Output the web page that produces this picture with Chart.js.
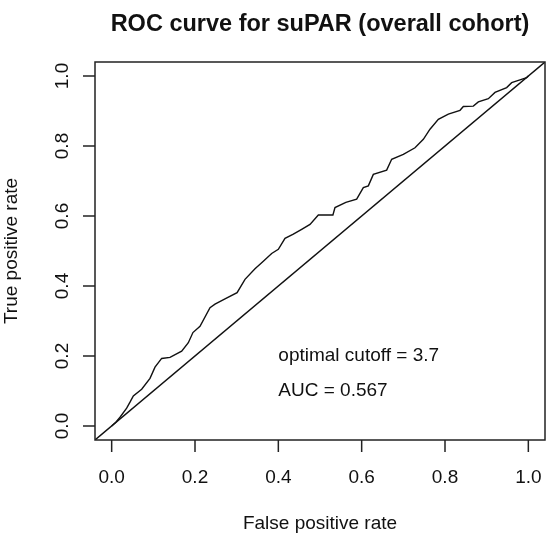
<!DOCTYPE html>
<html>
<head>
<meta charset="utf-8">
<script src="https://cdn.jsdelivr.net/npm/chart.js@4"></script>
<style>
html,body{margin:0;padding:0;background:#fff;}
#wrap{width:550px;height:538px;}
</style>
</head>
<body>
<div id="wrap"><canvas id="c" width="550" height="538"></canvas></div>
<script>
// ROC curve points (false positive rate, true positive rate)
const fpr = [0,0.010,0.020,0.036,0.044,0.052,0.072,0.092,0.104,0.120,0.140,0.168,0.184,0.195,0.212,0.236,0.248,0.272,0.301,0.320,0.344,0.364,0.384,0.400,0.416,0.436,0.456,0.476,0.496,0.531,0.536,0.562,0.588,0.604,0.616,0.628,0.660,0.672,0.700,0.728,0.748,0.764,0.784,0.808,0.836,0.844,0.868,0.880,0.904,0.920,0.948,0.960,0.980,0.996,1];
const tpr = [0,0.011,0.025,0.051,0.068,0.086,0.105,0.136,0.168,0.193,0.196,0.214,0.238,0.267,0.285,0.338,0.348,0.363,0.381,0.419,0.449,0.471,0.493,0.505,0.536,0.548,0.562,0.576,0.603,0.603,0.624,0.639,0.648,0.681,0.686,0.719,0.731,0.762,0.776,0.795,0.819,0.848,0.876,0.891,0.902,0.913,0.914,0.926,0.935,0.953,0.967,0.981,0.989,0.995,1];
// reference diagonal (abline 0,1) across the plot range
const diagX = [-0.04, 1.04];
const diagY = [-0.04, 1.04];
const xTicks = [0, 0.2, 0.4, 0.6, 0.8, 1.0];
const yTicks = [0, 0.2, 0.4, 0.6, 0.8, 1.0];
const xTickLabels = ["0.0","0.2","0.4","0.6","0.8","1.0"];
const yTickLabels = ["0.0","0.2","0.4","0.6","0.8","1.0"];
const titleText = "ROC curve for suPAR (overall cohort)";
const xTitle = "False positive rate";
const yTitle = "True positive rate";
const notes = [
  {x: 0.4, y: 0.2, text: "optimal cutoff = 3.7"},
  {x: 0.4, y: 0.1, text: "AUC = 0.567"}
];

const FONT = "'Liberation Sans', Arial, sans-serif";
const INK = "#000";

const decor = {
  id: 'decor',
  afterDraw(chart) {
    const ctx = chart.ctx;
    const a = chart.chartArea;
    const xs = chart.scales.x, ys = chart.scales.y;
    ctx.save();
    // box
    ctx.strokeStyle = "#222";
    ctx.lineWidth = 1.5;
    ctx.strokeRect(a.left, a.top, a.right - a.left, a.bottom - a.top);
    // x ticks
    ctx.fillStyle = "#111";
    ctx.font = "19px " + FONT;
    ctx.textAlign = "center";
    ctx.textBaseline = "middle";
    xTicks.forEach((v, i) => {
      const px = xs.getPixelForValue(v);
      ctx.beginPath();
      ctx.moveTo(px, a.bottom);
      ctx.lineTo(px, a.bottom + 12);
      ctx.stroke();
      ctx.fillText(xTickLabels[i], px, 478);
    });
    // y ticks
    yTicks.forEach((v, i) => {
      const py = ys.getPixelForValue(v);
      ctx.beginPath();
      ctx.moveTo(a.left, py);
      ctx.lineTo(a.left - 12, py);
      ctx.stroke();
      ctx.save();
      ctx.translate(62.5, py);
      ctx.rotate(-Math.PI / 2);
      ctx.fillText(yTickLabels[i], 0, 0);
      ctx.restore();
    });
    // axis titles
    ctx.fillText(xTitle, (a.left + a.right) / 2, 524);
    ctx.save();
    ctx.translate(12, (a.top + a.bottom) / 2);
    ctx.rotate(-Math.PI / 2);
    ctx.fillText(yTitle, 0, 0);
    ctx.restore();
    // main title
    ctx.font = "bold 23.5px " + FONT;
    ctx.fillText(titleText, (a.left + a.right) / 2 + 0, 25);
    // annotations
    ctx.font = "19px " + FONT;
    ctx.textAlign = "left";
    notes.forEach(n => {
      ctx.fillText(n.text, xs.getPixelForValue(n.x), ys.getPixelForValue(n.y));
    });
    ctx.restore();
  }
};

new Chart(document.getElementById('c'), {
  type: 'scatter',
  data: {
    datasets: [
      {
        data: fpr.map((v, i) => ({x: v, y: tpr[i]})),
        showLine: true,
        borderColor: "#111",
        borderWidth: 1.4,
        pointRadius: 0,
        tension: 0,
        fill: false
      },
      {
        data: diagX.map((v, i) => ({x: v, y: diagY[i]})),
        showLine: true,
        borderColor: "#111",
        borderWidth: 1.4,
        pointRadius: 0,
        fill: false
      }
    ]
  },
  options: {
    responsive: false,
    animation: false,
    devicePixelRatio: 1,
    layout: {padding: {left: 95, right: 5, top: 62, bottom: 98}},
    plugins: {legend: {display: false}, tooltip: {enabled: false}, title: {display: false}},
    scales: {
      x: {type: 'linear', min: -0.04, max: 1.04, display: false},
      y: {type: 'linear', min: -0.04, max: 1.04, display: false}
    }
  },
  plugins: [decor]
});
</script>
</body>
</html>
